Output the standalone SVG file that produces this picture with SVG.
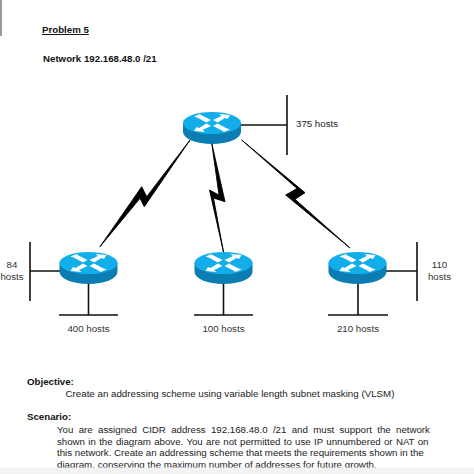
<svg xmlns="http://www.w3.org/2000/svg" xmlns:xlink="http://www.w3.org/1999/xlink" width="474" height="474" viewBox="0 0 474 474">
<style>
text{font-family:"Liberation Sans",Arial,sans-serif;font-size:9.7px;fill:#222}
.b{font-weight:bold;fill:#111}
.m{text-anchor:middle;fill:#333}
.bus{stroke:#111;stroke-width:1.6;fill:none}
.bolt{fill:#000;stroke:#000;stroke-width:.9;stroke-linejoin:miter}
</style>
<defs>
<g id="router">
<path d="M-29 0V9A29 12 0 0 0 29 9V0Z" fill="#0b7db2"/>
<ellipse cx="0" cy="0" rx="29" ry="11" fill="#12aeea"/>
<g fill="#fff">
<path d="M-18-6.500-12-9-10-7.500-1-3-5.500-.5-14-5Z"/>
<path d="M18-8 7-9 9.500-7 1-3 5.500-.5 13-5 15.500-4Z"/>
<path d="M-18 8-7 9-9.500 7-1 3-5.500 .5-13 5-15.500 4Z"/>
<path d="M18 6.500 12 9 10 7.500 1 3 5.500 .5 14 5Z"/>
</g>
</g>
</defs>
<rect width="474" height="474" fill="#fff"/>
<rect x="0" y="0" width="2" height="36" fill="#9a9a9a"/>
<g id="connectors">
<path class="bus" d="M241 125H287M287 95V155"/>
<path class="bus" d="M30 242V301M30 271H62"/>
<path class="bus" d="M88.500 283V315M59 315H118"/>
<path class="bus" d="M223.500 283V315M194 315H253"/>
<path class="bus" d="M358 283V315M328 315H388"/>
<path class="bus" d="M417 242V301M385 271H417"/>
<polygon class="bolt" points="190,140 146.700,196.700 141.700,186.700 100,246.700 140,198.300 144.300,206.700"/>
<polygon class="bolt" points="211.700,143 225,201.700 213.500,198 223.500,252 209.500,190 219,195"/>
<polygon class="bolt" points="241.700,140 305,192.700 295,199.300 350,248 285.700,195 297,188.500"/>
</g>
<g id="router-top"><use href="#router" xlink:href="#router" x="212" y="123"/><text x="296" y="127">375 hosts</text></g>
<g id="router-left"><use href="#router" xlink:href="#router" x="88.500" y="263"/><text class="m" x="88.500" y="332">400 hosts</text><text class="m" x="12" y="268">84</text><text class="m" x="12" y="280">hosts</text></g>
<g id="router-middle"><use href="#router" xlink:href="#router" x="223.500" y="263"/><text class="m" x="223.500" y="332">100 hosts</text></g>
<g id="router-right"><use href="#router" xlink:href="#router" x="357.500" y="263"/><text class="m" x="358" y="332">210 hosts</text><text class="m" x="439.500" y="268">110</text><text class="m" x="439.500" y="280">hosts</text></g>
<g id="heading">
<text class="b" x="42" y="33" text-decoration="underline">Problem 5</text>
<text class="b" x="43" y="62">Network 192.168.48.0 /21</text>
</g>
<g id="body">
<text class="b" x="27" y="385">Objective:</text>
<text x="65.500" y="396.500" style="font-size:9.760px">Create an addressing scheme using variable length subnet masking (VLSM)</text>
<text class="b" x="27" y="420">Scenario:</text>
<text x="57" y="432.500" style="word-spacing:2.650px">You are assigned  CIDR address 192.168.48.0 /21 and must support the network</text>
<text x="57" y="444.500" style="word-spacing:0.600px">shown in the diagram above. You are not permitted to use IP unnumbered or NAT on</text>
<text x="57" y="456">this network. Create an addressing scheme that meets the requirements shown in the</text>
<text x="57" y="468" style="font-size:9.750px">diagram, conserving the maximum number of addresses for future growth.</text>
</g>
<rect x="0" y="467.500" width="474" height="6.500" fill="#f3f3f3"/>
</svg>
